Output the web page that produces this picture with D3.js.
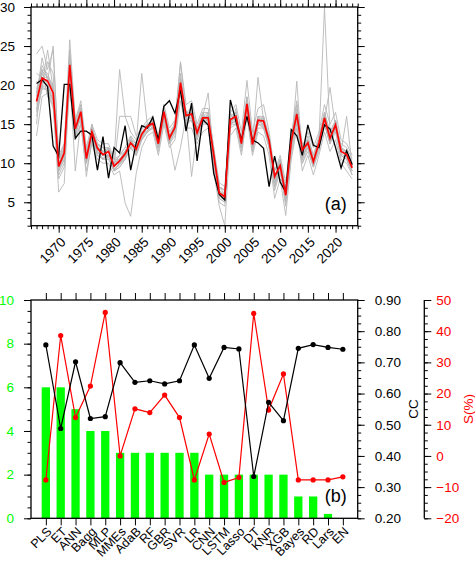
<!DOCTYPE html>
<html>
<head>
<meta charset="utf-8">
<script src="https://cdn.jsdelivr.net/npm/d3@7"></script>
<style>
  body { margin: 0; background: #fff; }
  svg { display: block; font-family: "Liberation Sans", Arial, Helvetica, sans-serif; }
</style>
</head>
<body>
<svg id="chart" width="475" height="561"></svg>
<script>
/* ── Panel (a): yearly series, 1966–2023 ── */
const years = d3.range(1966, 2024);
const yearTicks = [1970, 1975, 1980, 1985, 1990, 1995, 2000, 2005, 2010, 2015, 2020];
const valueTicksA = [5, 10, 15, 20, 25, 30];

// observed (black)
const observed = [
  20.2, 20.7, 19.8, 12.2,
  10.9, 20.1, 20.1, 13.2, 14.1, 14.1, 13.6, 9.1, 13.4, 8.1,
  12.0, 11.3, 14.8, 9.1, 12.6, 14.8, 14.5, 15.9, 13.0, 17.3,
  18.0, 16.4, 19.4, 14.1, 17.7, 10.3, 15.6, 14.9, 8.7, 6.0,
  5.3, 18.1, 15.4, 13.0, 16.0, 13.0, 12.6, 11.9, 7.0, 10.9,
  7.6, 6.3, 14.3, 13.5, 11.0, 14.9, 12.3, 12.0, 14.9, 14.4,
  12.0, 9.4, 11.6, 9.8
];

// ensemble mean (red)
const ensMean = [
  17.9, 20.9, 20.5, 19.0,
  9.6, 11.3, 22.6, 14.4, 16.6, 10.6, 14.0, 11.9, 11.1, 11.5,
  9.6, 10.3, 11.2, 12.6, 11.8, 13.7, 14.7, 15.1, 12.5, 16.6,
  13.2, 14.6, 20.3, 16.1, 16.3, 13.9, 15.8, 15.8, 11.1, 6.2,
  5.7, 15.6, 16.0, 12.5, 17.6, 12.4, 15.5, 15.4, 12.9, 8.3,
  9.7, 5.9, 12.8, 16.3, 11.7, 12.6, 10.2, 12.6, 15.8, 13.2,
  14.9, 11.5, 11.1, 9.4
];

// individual models (grey)
const members = [
  [24.0, 25.0, 22.0, 24.5,
   11.0, 12.5, 25.8, 15.5, 18.0, 12.0, 15.0, 13.0, 12.5, 12.5,
   10.5, 22.0, 16.0, 16.0, 13.5, 14.5, 15.5, 16.0, 13.5, 17.5,
   14.5, 15.5, 23.0, 17.5, 18.0, 15.0, 17.0, 17.0, 12.0, 7.5,
   7.0, 16.5, 17.5, 14.0, 20.6, 14.0, 17.0, 17.5, 14.0, 9.0,
   11.0, 7.5, 13.5, 18.0, 12.0, 14.0, 12.0, 14.0, 17.5, 15.0,
   16.5, 13.0, 12.5, 11.0],
  [13.5, 18.5, 19.0, 17.0,
   8.0, 9.5, 20.0, 13.0, 15.0, 9.0, 12.5, 10.5, 10.0, 10.0,
   8.5, 9.0, 4.9, 3.2, 8.7, 12.0, 13.5, 14.0, 11.0, 15.0,
   12.0, 13.0, 18.0, 14.5, 14.5, 12.5, 14.0, 14.5, 9.0, 4.5,
   2.0, 13.5, 14.5, 11.0, 16.0, 11.0, 14.0, 13.5, 11.0, 5.5,
   8.0, 3.3, 10.5, 14.5, 9.0, 11.0, 8.5, 11.0, 14.0, 11.5,
   13.0, 10.0, 9.0, 8.0],
  [19.0, 22.5, 21.0, 19.5,
   10.0, 12.0, 23.0, 14.0, 16.0, 11.0, 14.5, 12.5, 11.5, 11.0,
   10.0, 11.0, 11.5, 13.0, 12.5, 21.5, 15.0, 14.5, 13.0, 16.0,
   13.5, 14.0, 21.0, 16.5, 16.5, 14.0, 16.0, 16.0, 11.0, 7.0,
   6.0, 15.5, 16.5, 12.5, 18.0, 12.5, 16.0, 15.5, 13.0, 8.0,
   10.5, 6.5, 12.5, 16.5, 11.0, 13.0, 10.5, 13.0, 30.0, 14.0,
   15.5, 12.0, 11.5, 10.0],
  [16.5, 20.0, 24.5, 19.5,
   9.0, 11.0, 22.0, 14.5, 17.0, 10.5, 13.5, 11.5, 11.0, 11.0,
   9.0, 10.0, 11.0, 12.5, 11.5, 13.0, 14.0, 15.5, 12.0, 16.5,
   13.0, 14.5, 19.5, 15.5, 16.0, 13.5, 15.5, 15.5, 10.0, 6.0,
   5.5, 15.0, 15.5, 12.0, 17.0, 12.0, 15.0, 15.0, 12.5, 7.0,
   9.5, 5.5, 12.0, 16.0, 10.5, 12.5, 10.0, 12.0, 15.5, 19.7,
   14.5, 11.0, 10.5, 9.0],
  [21.5, 21.0, 20.5, 25.0,
   10.5, 11.5, 24.0, 15.0, 16.0, 11.5, 14.0, 12.0, 11.5, 12.0,
   10.0, 10.5, 11.5, 13.0, 12.0, 14.0, 14.5, 15.0, 12.5, 17.0,
   13.5, 14.5, 20.5, 16.5, 16.5, 14.5, 16.0, 16.5, 11.5, 7.0,
   6.5, 16.0, 16.0, 13.0, 18.0, 13.0, 15.5, 16.0, 13.0, 8.0,
   10.0, 6.5, 12.5, 16.5, 11.0, 13.0, 10.5, 13.0, 16.0, 14.0,
   15.0, 12.0, 11.0, 10.0],
  [17.0, 20.0, 19.5, 18.0,
   6.3, 7.4, 21.0, 9.0, 15.5, 8.3, 13.0, 11.0, 10.5, 10.5,
   9.0, 9.5, 10.5, 12.0, 11.0, 13.0, 14.0, 14.5, 11.5, 15.5,
   12.5, 13.5, 19.0, 15.0, 15.5, 13.0, 15.0, 15.0, 9.5, 5.0,
   4.5, 14.5, 15.0, 11.5, 16.5, 11.5, 14.5, 14.5, 12.0, 6.5,
   9.0, 4.5, 11.0, 15.0, 10.0, 11.5, 9.5, 11.5, 15.0, 12.5,
   14.0, 10.5, 10.0, 8.5],
  [18.0, 21.0, 21.0, 19.0,
   9.5, 11.5, 22.5, 14.0, 16.5, 10.5, 14.0, 12.0, 11.0, 11.5,
   9.5, 16.0, 16.0, 14.0, 13.0, 13.5, 14.5, 15.0, 12.5, 16.0,
   13.0, 9.1, 12.0, 16.0, 8.3, 14.0, 16.0, 19.0, 10.5, 6.0,
   6.0, 15.5, 16.0, 12.5, 17.5, 12.5, 21.0, 15.5, 12.5, 7.5,
   10.0, 6.0, 12.0, 20.5, 10.5, 12.5, 10.0, 12.5, 16.0, 13.5,
   15.0, 11.5, 16.0, 9.5],
  [18.5, 21.5, 20.0, 18.5,
   10.0, 11.0, 22.0, 14.5, 17.0, 11.0, 14.0, 12.0, 11.5, 11.0,
   10.0, 10.0, 11.0, 12.5, 12.0, 14.0, 14.5, 15.5, 12.0, 16.5,
   13.5, 15.0, 20.0, 16.5, 16.0, 14.0, 16.0, 15.5, 10.5, 6.5,
   5.5, 15.5, 16.0, 12.0, 17.5, 12.0, 15.5, 15.0, 12.5, 7.5,
   10.0, 6.0, 12.5, 16.0, 10.5, 12.5, 10.5, 12.5, 15.5, 13.0,
   15.0, 11.5, 11.0, 9.5],
  [16.0, 19.5, 19.5, 18.0,
   9.0, 10.5, 21.5, 13.5, 16.0, 10.0, 13.0, 11.5, 10.5, 11.0,
   9.0, 9.5, 10.5, 12.0, 11.0, 13.0, 14.0, 14.5, 12.0, 16.0,
   12.5, 14.0, 19.5, 15.5, 15.5, 13.5, 15.5, 15.0, 10.0, 5.5,
   5.0, 15.0, 15.0, 12.0, 17.0, 11.5, 15.0, 14.5, 12.0, 7.0,
   9.0, 5.0, 11.5, 15.5, 10.0, 12.0, 9.5, 12.0, 15.0, 12.5,
   14.5, 11.0, 10.5, 9.0],
  [19.5, 22.0, 21.5, 19.5,
   10.5, 12.0, 23.5, 15.5, 17.5, 11.5, 14.5, 12.5, 12.0, 12.0,
   10.5, 11.0, 12.0, 13.5, 12.5, 14.5, 15.0, 15.5, 13.0, 17.0,
   14.0, 15.0, 22.8, 16.5, 17.0, 14.5, 16.5, 16.5, 11.5, 7.0,
   6.5, 16.0, 16.5, 13.0, 18.5, 13.0, 16.0, 16.0, 13.5, 8.0,
   10.5, 6.5, 13.0, 17.0, 11.0, 13.5, 11.0, 13.0, 16.5, 14.0,
   15.5, 12.0, 11.5, 10.0],
  [20.5, 19.5, 23.0, 21.5,
   8.5, 10.0, 24.5, 13.5, 15.0, 11.0, 13.0, 12.5, 12.0, 10.5,
   10.0, 11.0, 12.0, 12.0, 12.5, 13.0, 15.0, 14.5, 13.0, 16.0,
   14.0, 14.0, 21.5, 15.5, 17.0, 14.5, 15.0, 16.5, 12.0, 5.5,
   5.0, 16.5, 15.0, 13.5, 18.5, 13.5, 15.0, 16.0, 12.0, 9.0,
   10.5, 5.0, 13.5, 17.5, 12.5, 13.0, 11.0, 13.5, 16.5, 14.0,
   14.0, 12.5, 12.0, 10.5],
  [15.0, 22.0, 18.5, 17.5,
   10.5, 12.5, 21.0, 15.0, 17.5, 10.0, 15.0, 11.0, 10.5, 12.0,
   9.0, 10.0, 10.5, 13.5, 11.0, 14.5, 14.0, 15.5, 12.0, 17.5,
   12.5, 15.5, 19.5, 16.5, 15.5, 13.0, 16.5, 15.0, 10.5, 7.0,
   6.5, 14.5, 17.0, 12.0, 16.5, 11.5, 16.0, 14.5, 13.5, 7.5,
   9.0, 7.0, 12.0, 15.5, 11.0, 12.0, 9.5, 12.0, 15.0, 12.5,
   15.5, 11.0, 10.5, 8.5],
  [18.5, 23.5, 20.5, 19.5,
   10.0, 11.5, 23.0, 14.0, 16.0, 10.8, 13.5, 12.0, 11.5, 11.0,
   10.5, 10.5, 11.5, 12.5, 12.0, 13.5, 14.5, 15.0, 12.8, 16.0,
   13.5, 14.8, 20.0, 16.0, 16.5, 14.0, 15.5, 16.0, 11.0, 6.5,
   6.0, 15.0, 16.5, 12.8, 17.0, 12.8, 15.0, 15.8, 12.5, 8.5,
   9.5, 6.5, 12.5, 16.0, 12.0, 12.8, 10.5, 12.2, 16.2, 13.5,
   14.5, 11.8, 11.5, 9.8],
  [17.5, 20.5, 20.0, 18.0,
   9.2, 12.0, 22.0, 14.8, 17.0, 10.2, 14.5, 11.5, 11.0, 12.0,
   9.2, 10.0, 11.0, 13.0, 11.5, 14.0, 14.5, 15.3, 12.2, 17.0,
   13.0, 14.2, 20.5, 16.5, 16.0, 13.5, 16.2, 15.5, 11.5, 6.0,
   5.5, 15.8, 15.5, 12.2, 18.0, 12.0, 15.8, 15.0, 13.2, 8.0,
   10.0, 5.5, 13.0, 16.5, 11.5, 12.3, 10.0, 12.8, 15.5, 13.0,
   15.2, 11.2, 10.8, 9.2],
  [19.0, 21.8, 21.0, 20.0,
   9.8, 10.8, 22.8, 14.2, 16.2, 11.2, 13.8, 12.2, 11.2, 11.8,
   9.8, 10.6, 11.4, 12.8, 12.2, 13.5, 15.0, 14.8, 12.6, 16.8,
   13.4, 14.4, 20.8, 15.8, 16.6, 14.2, 15.6, 16.2, 10.8, 6.4,
   5.9, 15.2, 16.2, 12.6, 17.2, 12.6, 15.2, 15.6, 12.6, 8.6,
   9.4, 6.2, 12.6, 16.6, 11.4, 12.8, 10.4, 12.4, 16.0, 13.4,
   14.6, 11.6, 11.3, 9.6],
  [16.8, 19.8, 19.2, 17.6,
   9.0, 10.5, 21.8, 13.8, 15.8, 10.0, 13.2, 11.4, 10.6, 11.0,
   9.2, 9.8, 10.8, 12.2, 11.4, 13.2, 14.2, 14.6, 12.0, 16.0,
   12.8, 14.0, 19.6, 15.6, 15.8, 13.4, 15.2, 15.2, 10.6, 5.8,
   5.2, 15.0, 15.4, 12.0, 17.0, 12.0, 15.0, 14.8, 12.4, 7.8,
   9.2, 5.4, 12.2, 15.8, 11.2, 12.2, 9.8, 12.2, 15.2, 12.8,
   14.4, 11.0, 10.6, 9.0]
];

/* ── Panel (b): per-method scores ── */
const methods = ['PLS', 'ET', 'ANN', 'Bagg', 'MLP', 'MMEs', 'AdaB', 'RF', 'GBR', 'SVR', 'LR',
  'CNN', 'LSTM', 'Lasso', 'DT', 'KNR', 'XGB', 'Bayes', 'RD', 'Lars', 'EN'];
const counts = [6, 6, 5, 4, 4, 3, 3, 3, 3, 3, 3, 2, 2, 2, 2, 2, 2, 1, 1, 0.2, 0];
const ccVals = [0.756, 0.488, 0.702, 0.520, 0.526, 0.699, 0.636, 0.641, 0.631, 0.641, 0.756,
  0.649, 0.748, 0.743, 0.334, 0.572, 0.513, 0.745, 0.757, 0.748, 0.742];
const sVals = [-7.7, 38.6, 12.3, 22.4, 46.0, 0.0, 15.1, 13.9, 19.5, 12.3, -7.7,
  7.0, -8.5, -6.9, 45.7, 14.7, 26.3, -7.7, -7.7, -7.7, -6.7];
const countTicks = [0, 2, 4, 6, 8, 10];
const ccTicks = [0.2, 0.3, 0.4, 0.5, 0.6, 0.7, 0.8, 0.9];
const sTicks = [-20, -10, 0, 10, 20, 30, 40, 50];

const GREEN = '#00ff00';
const RED = '#ff0000';
const FS = 13.5;

const svg = d3.select('#chart');

// helper: draw an axis without its domain line and style it
function drawAxis(g, axis, textColor) {
  g.call(axis)
    .call((s) => s.select('.domain').remove())
    .call((s) => s.selectAll('line').attr('stroke', '#000').attr('stroke-width', 1))
    .call((s) => s.selectAll('text').attr('fill', textColor || '#000').attr('font-size', FS));
  return g;
}

/* ══════════ Panel (a) ══════════ */
const A = { left: 31, right: 357.7, top: 7, bottom: 225.7 };
const x = d3.scaleLinear().domain([1965, 2024]).range([A.left, A.right]);
const y = d3.scaleLinear().domain([2, 30]).range([A.bottom, A.top]);
const allYears = d3.range(1965, 2025);
const minorA = d3.range(2, 31);

const ga = svg.append('g');

const line = d3.line().x((d, i) => x(years[i])).y((d) => y(d));

ga.append('g').selectAll('path')
  .data(members)
  .join('path')
  .attr('d', line)
  .attr('fill', 'none')
  .attr('stroke', '#b8b8b8')
  .attr('stroke-width', 0.9);

ga.append('path').attr('d', line(observed))
  .attr('fill', 'none').attr('stroke', '#000').attr('stroke-width', 1.3);

ga.append('path').attr('d', line(ensMean))
  .attr('fill', 'none').attr('stroke', RED).attr('stroke-width', 1.7);

// minor + major ticks on four sides
drawAxis(ga.append('g').attr('transform', `translate(0,${A.bottom})`),
  d3.axisBottom(x).tickValues(allYears).tickSize(3.5).tickFormat(''));
const bx = drawAxis(ga.append('g').attr('transform', `translate(0,${A.bottom})`),
  d3.axisBottom(x).tickValues(yearTicks).tickSize(7).tickFormat(d3.format('d')));
bx.selectAll('text')
  .attr('x', 0).attr('y', 0).attr('dy', '0.35em')
  .attr('text-anchor', 'end')
  .attr('transform', 'translate(4,14) rotate(-45)');

drawAxis(ga.append('g').attr('transform', `translate(0,${A.top})`),
  d3.axisTop(x).tickValues(allYears).tickSize(3.5).tickFormat(''));
drawAxis(ga.append('g').attr('transform', `translate(0,${A.top})`),
  d3.axisTop(x).tickValues(yearTicks).tickSize(7).tickFormat(''));

drawAxis(ga.append('g').attr('transform', `translate(${A.left},0)`),
  d3.axisLeft(y).tickValues(minorA).tickSize(3.5).tickFormat(''));
drawAxis(ga.append('g').attr('transform', `translate(${A.left},0)`),
  d3.axisLeft(y).tickValues(valueTicksA).tickSize(7).tickPadding(9).tickFormat(d3.format('d')));

drawAxis(ga.append('g').attr('transform', `translate(${A.right},0)`),
  d3.axisRight(y).tickValues(minorA).tickSize(3.5).tickFormat(''));
drawAxis(ga.append('g').attr('transform', `translate(${A.right},0)`),
  d3.axisRight(y).tickValues(valueTicksA).tickSize(7).tickFormat(''));

ga.append('rect')
  .attr('x', A.left).attr('y', A.top)
  .attr('width', A.right - A.left).attr('height', A.bottom - A.top)
  .attr('fill', 'none').attr('stroke', '#000').attr('stroke-width', 1.3);

ga.append('text')
  .attr('x', A.right - 11).attr('y', A.bottom - 16)
  .attr('text-anchor', 'end')
  .attr('font-size', 18)
  .text('(a)');

/* ══════════ Panel (b) ══════════ */
const B = { left: 31, right: 357.7, top: 300, bottom: 518.3 };
const SX = 424.3;
const xb = d3.scalePoint().domain(methods).range([B.left, B.right]).padding(1);
const yL = d3.scaleLinear().domain([0, 10]).range([B.bottom, B.top]);
const yCC = d3.scaleLinear().domain([0.2, 0.9]).range([B.bottom, B.top]);
const yS = d3.scaleLinear().domain([-20, 50]).range([B.bottom, B.top]);
const barW = 8.3;

const gb = svg.append('g');

gb.append('g').selectAll('rect')
  .data(methods)
  .join('rect')
  .attr('x', (d) => xb(d) - barW / 2)
  .attr('y', (d, i) => yL(counts[i]))
  .attr('width', barW)
  .attr('height', (d, i) => yL(0) - yL(counts[i]))
  .attr('fill', GREEN);

const ccLine = d3.line().x((d, i) => xb(methods[i])).y((d) => yCC(d));
const sLine = d3.line().x((d, i) => xb(methods[i])).y((d) => yS(d));

gb.append('path').attr('d', sLine(sVals))
  .attr('fill', 'none').attr('stroke', RED).attr('stroke-width', 1.2);
gb.append('g').selectAll('circle')
  .data(sVals)
  .join('circle')
  .attr('cx', (d, i) => xb(methods[i]))
  .attr('cy', (d) => yS(d))
  .attr('r', 2.6)
  .attr('fill', RED);

gb.append('path').attr('d', ccLine(ccVals))
  .attr('fill', 'none').attr('stroke', '#000').attr('stroke-width', 1.2);
gb.append('g').selectAll('circle')
  .data(ccVals)
  .join('circle')
  .attr('cx', (d, i) => xb(methods[i]))
  .attr('cy', (d) => yCC(d))
  .attr('r', 2.6)
  .attr('fill', '#000');

// x ticks (top and bottom) at each method
const bxb = drawAxis(gb.append('g').attr('transform', `translate(0,${B.bottom})`),
  d3.axisBottom(xb).tickSize(7));
bxb.selectAll('text')
  .attr('x', 0).attr('y', 0).attr('dy', '0.35em')
  .attr('text-anchor', 'end')
  .attr('font-size', 12.5)
  .attr('transform', 'translate(3,11) rotate(-45)');
drawAxis(gb.append('g').attr('transform', `translate(0,${B.top})`),
  d3.axisTop(xb).tickSize(7).tickFormat(''));

// left count axis (green labels)
drawAxis(gb.append('g').attr('transform', `translate(${B.left},0)`),
  d3.axisLeft(yL).tickValues(d3.range(0, 10.01, 0.5)).tickSize(3.5).tickFormat(''));
drawAxis(gb.append('g').attr('transform', `translate(${B.left},0)`),
  d3.axisLeft(yL).tickValues(countTicks).tickSize(7).tickPadding(10).tickFormat(d3.format('d')), GREEN);

// right CC axis
drawAxis(gb.append('g').attr('transform', `translate(${B.right},0)`),
  d3.axisRight(yCC).tickValues(d3.range(0.2, 0.9001, 0.025)).tickSize(3.5).tickFormat(''));
drawAxis(gb.append('g').attr('transform', `translate(${B.right},0)`),
  d3.axisRight(yCC).tickValues(ccTicks).tickSize(7).tickPadding(10).tickFormat(d3.format('.2f')));

gb.append('rect')
  .attr('x', B.left).attr('y', B.top)
  .attr('width', B.right - B.left).attr('height', B.bottom - B.top)
  .attr('fill', 'none').attr('stroke', '#000').attr('stroke-width', 1.3);

// detached S(%) axis
gb.append('line')
  .attr('x1', SX).attr('x2', SX).attr('y1', B.top).attr('y2', B.bottom)
  .attr('stroke', '#000').attr('stroke-width', 1.3);
drawAxis(gb.append('g').attr('transform', `translate(${SX},0)`),
  d3.axisRight(yS).tickValues(d3.range(-20, 50.01, 2.5)).tickSize(3.5).tickFormat(''));
drawAxis(gb.append('g').attr('transform', `translate(${SX},0)`),
  d3.axisRight(yS).tickValues(sTicks).tickSize(7).tickPadding(5).tickFormat(d3.format('d')), RED);

gb.append('text')
  .attr('transform', `translate(${418},${409}) rotate(-90)`)
  .attr('text-anchor', 'middle')
  .attr('font-size', FS)
  .text('CC');
gb.append('text')
  .attr('transform', `translate(${473},${409}) rotate(-90)`)
  .attr('text-anchor', 'middle')
  .attr('font-size', FS)
  .attr('fill', RED)
  .text('S(%)');

gb.append('text')
  .attr('x', B.right - 11).attr('y', B.bottom - 16)
  .attr('text-anchor', 'end')
  .attr('font-size', 18)
  .text('(b)');
</script>
</body>
</html>
